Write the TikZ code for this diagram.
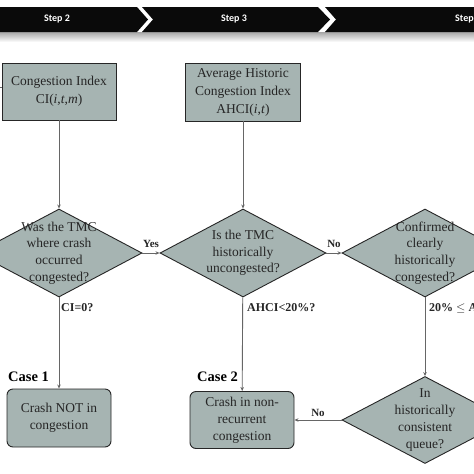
\documentclass[tikz,border=0pt]{standalone}
\usepackage{fontspec}
\setmainfont{Liberation Serif}
\newfontfamily\bannerfont{Carlito}
\usetikzlibrary{shapes.geometric,arrows.meta}
\definecolor{boxgray}{RGB}{166,180,178}
\definecolor{inkgray}{RGB}{38,38,38}
\tikzset{
  infobox/.style={draw=black!85, line width=0.9pt, fill=boxgray, minimum width=114pt, minimum height=57pt, inner sep=0pt, align=center, text=inkgray, font=\fontsize{13.5}{18}\selectfont},
  casebox/.style={infobox, rounded corners=6pt, minimum width=104pt, minimum height=58pt, font=\fontsize{13.5}{17}\selectfont},
  decision/.style={draw=black!85, line width=0.9pt, fill=boxgray, diamond, inner sep=0pt, minimum width=166pt, minimum height=88pt},
  dtext/.style={align=center, text=inkgray, inner sep=0pt, font=\fontsize{13.5}{16.7}\selectfont},
  link/.style={draw=black!60, line width=0.9pt, -{Stealth[length=4pt,width=3.5pt]}},
  tag/.style={font=\bfseries\fontsize{11}{13}\selectfont, text=inkgray, inner sep=0pt},
  cond/.style={font=\bfseries\fontsize{12}{14}\selectfont, text=inkgray, inner sep=0pt, anchor=west},
  casetag/.style={font=\bfseries\fontsize{14.5}{16}\selectfont, inner sep=0pt, anchor=west},
  band/.style={fill=black!96},
  steptext/.style={font=\bannerfont\bfseries\fontsize{10}{12}\selectfont, text=white, inner sep=0pt},
}
\begin{document}
\begin{tikzpicture}[x=1pt,y=-1pt]
\useasboundingbox (0,0) rectangle (474,474);
\clip (0,0) rectangle (474,474);
% step banner
\shade[top color=black!35, bottom color=white] (-5,32) rectangle (480,42);
\fill[band] (-5,7) -- (137,7) -- (148,19.5) -- (137,32) -- (-5,32) -- cycle;
\fill[band] (142,7) -- (318,7) -- (330,19.5) -- (318,32) -- (142,32) -- (153,19.5) -- cycle;
\fill[band] (325,7) -- (480,7) -- (480,32) -- (325,32) -- (336,19.5) -- cycle;
\node[steptext] (s2) at (57,19.5) {Step 2};
\node[steptext] (s3) at (234,19.5) {Step 3};
\node[steptext, anchor=west] (s4) at (455,19.5) {Step 4};
% inputs
\node[infobox] (ci) at (59,91.5) {Congestion Index\\CI(\textit{i},\textit{t},\textit{m})};
\node[infobox, minimum width=115pt, minimum height=58pt] (ahci) at (243,92) {Average Historic\\Congestion Index\\AHCI(\textit{i},\textit{t})};
\coordinate (feed) at (-10,87);
\draw[draw=black!60, line width=0.9pt] (feed) -- (feed -| ci.west);
% questions
\node[decision] (q1) at (59,253) {};
\node[dtext] at (q1) {Was the TMC\\where crash\\occurred\\congested?};
\node[decision] (q2) at (243,253) {};
\node[dtext] at (q2) {Is the TMC\\historically\\uncongested?};
\node[decision] (q3) at (425,253) {};
\node[dtext] at (q3) {Confirmed\\clearly\\historically\\congested?};
\node[decision, minimum height=87pt] (q4) at (425,420) {};
\node[dtext] at (q4) {In\\historically\\consistent\\queue?};
% cases
\node[casebox] (case1) at (59,418) {Crash NOT in\\congestion};
\node[casebox, minimum height=57pt] (case2) at (242,420) {Crash in non-\\recurrent\\congestion};
\node[casetag] (t1) at (8,377) {Case 1};
\node[casetag] (t2) at (197,377) {Case 2};
% conditions
\node[cond] (c1) at (61,308) {CI=0?};
\node[cond] (c2) at (247,308) {AHCI<20\%?};
\node[cond] (c3) at (429,308) {20\% $\leq$ AHCI};
% connectors
\draw[link] (ci) -- (q1);
\draw[link] (ahci) -- (q2);
\draw[link] (q1) -- node[tag, above=5pt] {Yes} (q2);
\draw[link] (q2) -- node[tag, above=5pt] {No} (q3);
\draw[link] (q1) -- (case1);
\draw[link] (q2) -- (case2);
\draw[link] (q3) -- (q4);
\draw[link] (q4) -- node[tag, above=3pt] {No} (case2);
\end{tikzpicture}
\end{document}
